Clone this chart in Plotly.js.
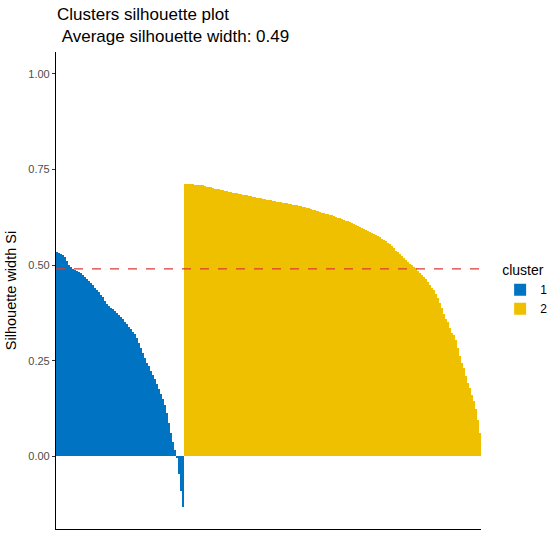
<!DOCTYPE html>
<html>
<head>
<meta charset="utf-8">
<script src="https://cdn.plot.ly/plotly-3.0.1.min.js"></script>
<style>html,body{margin:0;padding:0;background:#fff;}#chart{width:560px;height:560px;}</style>
</head>
<body>
<div id="chart"></div>
<script>
// Silhouette widths, sorted within each cluster
const cluster1Values = [
  0.533,0.531,0.529,0.526,0.520,0.510,0.500,0.494,0.490,0.487,
  0.484,0.481,0.478,0.475,0.470,0.464,0.458,0.452,0.447,0.441,
  0.434,0.429,0.423,0.416,0.407,0.399,0.394,0.389,0.384,0.379,
  0.374,0.369,0.364,0.358,0.352,0.345,0.338,0.332,0.326,0.319,
  0.309,0.296,0.283,0.270,0.257,0.245,0.235,0.224,0.212,0.201,
  0.189,0.176,0.163,0.149,0.135,0.113,0.087,0.061,0.038,0.017,
  -0.005,-0.045,-0.090,-0.133
];
const cluster2Values = [
  0.712,0.712,0.711,0.711,0.711,0.710,0.710,0.709,0.709,0.708,
  0.707,0.705,0.704,0.703,0.701,0.700,0.699,0.698,0.697,0.696,
  0.694,0.693,0.692,0.691,0.689,0.688,0.687,0.686,0.685,0.684,
  0.683,0.682,0.681,0.680,0.678,0.677,0.676,0.675,0.674,0.673,
  0.672,0.671,0.670,0.669,0.668,0.667,0.666,0.665,0.664,0.663,
  0.662,0.661,0.660,0.659,0.658,0.657,0.656,0.655,0.654,0.652,
  0.651,0.649,0.648,0.646,0.645,0.643,0.642,0.640,0.639,0.637,
  0.636,0.634,0.633,0.631,0.630,0.628,0.626,0.624,0.622,0.620,
  0.618,0.616,0.614,0.612,0.609,0.607,0.604,0.602,0.599,0.597,
  0.594,0.592,0.589,0.587,0.584,0.582,0.579,0.576,0.573,0.569,
  0.566,0.562,0.558,0.554,0.550,0.545,0.537,0.533,0.528,0.524,
  0.519,0.514,0.509,0.504,0.499,0.495,0.491,0.485,0.479,0.473,
  0.468,0.463,0.456,0.449,0.441,0.434,0.425,0.413,0.400,0.387,
  0.373,0.360,0.350,0.336,0.322,0.316,0.305,0.284,0.263,0.245,
  0.230,0.210,0.193,0.178,0.160,0.146,0.125,0.095,0.060
];
const clusterNames = ["1", "2"];
const clusterColors = ["#0073C2", "#EFC000"];
const averageWidth = 0.49;
const yTickValues = [0, 0.25, 0.5, 0.75, 1];
const yTickLabels = ["0.00", "0.25", "0.50", "0.75", "1.00"];
const titleText = "Clusters silhouette plot<br>\u00a0Average silhouette width: 0.49";

const n1 = cluster1Values.length;
const n2 = cluster2Values.length;
const x1 = cluster1Values.map((_, i) => i);
const x2 = cluster2Values.map((_, i) => n1 + i);
const total = n1 + n2;

const font = "Liberation Sans, Arial, sans-serif";

const traces = [
  {type: "bar", x: x1, y: cluster1Values, name: clusterNames[0],
   marker: {color: clusterColors[0], line: {width: 0}}, width: 1.15, hoverinfo: "y"},
  {type: "bar", x: x2, y: cluster2Values, name: clusterNames[1],
   marker: {color: clusterColors[1], line: {width: 0}}, width: 1.15, hoverinfo: "y"}
];

const allVals = cluster1Values.concat(cluster2Values, [1]);
const ymin = Math.min(...allVals), ymax = Math.max(...allVals);
const pad = (ymax - ymin) * 0.05;

const layout = {
  width: 560, height: 560,
  margin: {l: 56, r: 79, t: 52, b: 31, autoexpand: false},
  paper_bgcolor: "#fff", plot_bgcolor: "#fff",
  font: {family: font, color: "#000"},
  barmode: "overlay",
  bargap: 0,
  showlegend: true,
  title: {text: titleText, x: 57/560, xanchor: "left", xref: "container",
          y: 1 - 20/560, yanchor: "top", yref: "container",
          font: {family: font, size: 17, color: "#000"}},
  xaxis: {range: [-0.6, total - 1 + 0.6], showticklabels: false, ticks: "",
          showgrid: false, zeroline: false, showline: true, linecolor: "#000", linewidth: 1.1,
          fixedrange: true, automargin: false},
  yaxis: {range: [ymin - pad, ymax + pad], tickvals: yTickValues, ticktext: yTickLabels,
          ticks: "outside", ticklen: 3, tickcolor: "#333", tickwidth: 1,
          tickfont: {family: font, size: 11, color: "#4D4D4D"},
          showgrid: false, zeroline: false, showline: true, linecolor: "#000", linewidth: 1.1,
          title: {text: "Silhouette width Si", font: {family: font, size: 14.5, color: "#000"}, standoff: 8},
          automargin: false, fixedrange: true},
  legend: {x: 1.045, xanchor: "left", y: 0.5, yanchor: "middle",
           title: {text: "cluster", font: {family: font, size: 14, color: "#000"}},
           font: {family: font, size: 12, color: "#000"},
           bgcolor: "rgba(0,0,0,0)", tracegroupgap: 0, itemwidth: 30},
  shapes: [{type: "line", xref: "paper", x0: 0, x1: 1, yref: "y", y0: averageWidth, y1: averageWidth,
            line: {color: "#D93A35", width: 1.1, dash: "dash"}}]
};

Plotly.newPlot("chart", traces, layout, {displayModeBar: false, staticPlot: true});
</script>
</body>
</html>
